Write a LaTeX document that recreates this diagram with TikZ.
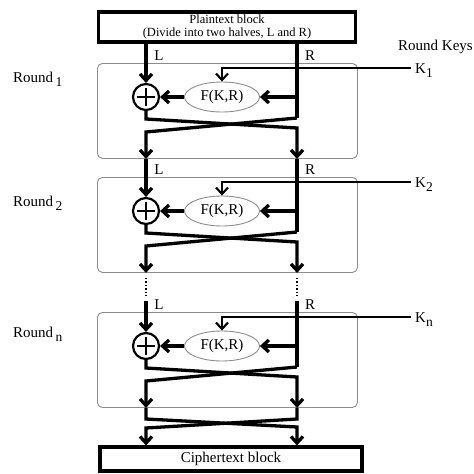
\documentclass[tikz,border=0pt]{standalone}
\usepackage{fontspec}
\setmainfont{Liberation Serif}
\usetikzlibrary{arrows.meta,shapes.geometric,positioning}
\definecolor{frame}{HTML}{8C8C8C}
\newcommand\sub[1]{\raisebox{-0.6ex}{\fontsize{13.5}{14}\selectfont #1}}
\tikzset{
  flow/.style={draw=black, line width=3.3pt},
  keyline/.style={draw=black, line width=2.1pt},
  tip/.style={-{Straight Barb[length=6.5pt,width=12pt]}},
  dots/.style={draw=black, line width=1.4pt, dotted},
  roundbox/.style={draw=frame, line width=0.9pt, rounded corners=5pt,
    minimum width=260pt, minimum height=95pt, inner sep=0pt},
  xor/.style={circle, draw=black, line width=2.2pt, minimum size=26pt, inner sep=0pt,
    path picture={\draw[line width=2.8pt]
      ([yshift=9pt]path picture bounding box.center) -- ([yshift=-9pt]path picture bounding box.center)
      ([xshift=-9pt]path picture bounding box.center) -- ([xshift=9pt]path picture bounding box.center);}},
  fbox/.style={ellipse, draw=frame, line width=0.9pt, minimum width=75pt,
    minimum height=30pt, inner sep=0pt, font=\fontsize{15}{17}\selectfont},
  blockbox/.style={draw=black, line width=3.2pt, inner sep=0pt, align=center},
  lab/.style={text=black, font=\fontsize{15}{17}\selectfont, inner sep=1pt},
}

\begin{document}
\begin{tikzpicture}[x=1pt, y=-1pt]
  \useasboundingbox (0,0) rectangle (474,474);
  % plaintext and ciphertext blocks
  \node[blockbox, minimum width=257pt, minimum height=30pt,
    font=\fontsize{12.5}{13}\selectfont] (pt) at (227,27)
    {Plaintext block\\(Divide into two halves, L and R)};
  \node[blockbox, minimum width=262pt, minimum height=24pt,
    font=\fontsize{15}{17}\selectfont] (ct) at (231,459) {Ciphertext block};
  \node[lab, anchor=east] (keys) at (474,47) {Round Keys};
  % one box per round
  \foreach \t/\k/\n/\o in {63/1/1/16, 177/2/2/26, 312/n/3/22}{
    \node[roundbox, anchor=north west] (r\n) at (97,\t) {};
    \node[xor] (x\n) at (146,\t+34) {};
    \node[fbox] (f\n) at (222,\t+34) {F(K,R)};
    \node[lab, anchor=west] (k\n) at (414,\t+8) {K\sub{\k}};
    \node[lab, anchor=west] (rn\n) at (12,\t+\o) {Round\,\sub{\k}};
    \node[lab] (ll\n) at (159,\t-7) {L};
    \node[lab] (rl\n) at (310,\t-7) {R};
    \coordinate (kin\n) at (411,\t+5);
    \coordinate (rb\n) at (297,\t+55);
    \coordinate (lb\n) at (146,\t+56);
    \draw[keyline, tip] (kin\n) -| (f\n.north);
    \draw[flow, tip] (rb\n |- f\n) -- (f\n.east);
    \draw[flow, tip] (f\n.west) -- (x\n.east);
    \draw[flow, tip] (x\n.south) -- (lb\n) -- ++(151,9) -- (rb\n |- r\n.south);
    \draw[flow, tip] (rb\n) -- ++(-151,14) -- (lb\n |- r\n.south);
  }
  % into the rounds
  \coordinate (ld) at (146,301);
  \coordinate (rd) at (297,301);
  \draw[flow, tip] (pt.south -| x1.north) -- (x1.north);
  \draw[flow] (pt.south -| rb1) -- (rb1);
  \draw[flow, tip] (r1.south -| x2.north) -- (x2.north);
  \draw[flow] (r1.south -| rb2) -- (rb2);
  \draw[dots] ([yshift=-5pt]r2.south -| ld) -- ([yshift=3pt]ld);
  \draw[dots] ([yshift=-5pt]r2.south -| rd) -- ([yshift=3pt]rd);
  \draw[flow, tip] (ld) -- (x3.north);
  \draw[flow] (rd) -- (rb3);
  % last swap
  \draw[flow, tip] (lb3 |- r3.south) -- (146,419) -- (297,427) -- (ct.north -| rb3);
  \draw[flow, tip] (rb3 |- r3.south) -- (297,419) -- (146,428) -- (ct.north -| lb3);
\end{tikzpicture}
\end{document}
